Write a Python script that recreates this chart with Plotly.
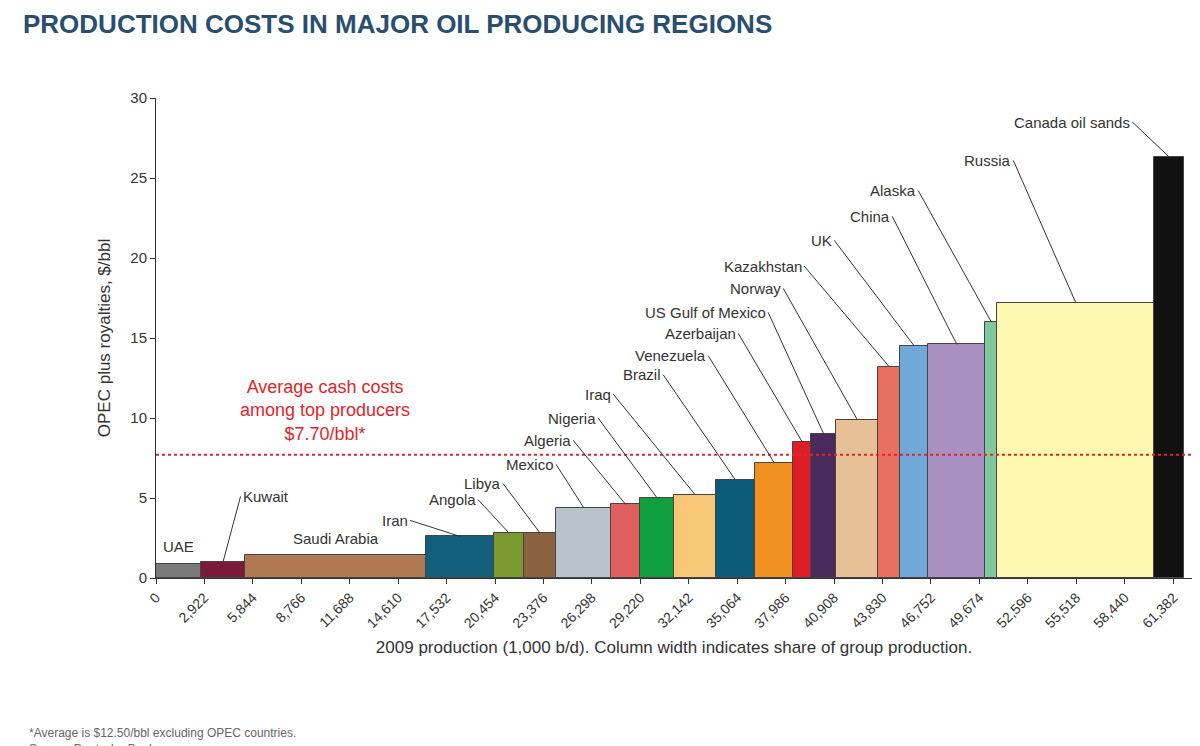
import plotly.graph_objects as go
import numpy as np

regions = ["UAE","Kuwait","Saudi Arabia","Iran","Angola","Libya","Mexico","Algeria","Nigeria","Iraq",
           "Brazil","Venezuela","Azerbaijan","US Gulf of Mexico","Norway","Kazakhstan","UK","China",
           "Alaska","Russia","Canada oil sands"]
widths = [2716,2655,10924,4103,1811,1931,3319,1750,2052,2535,2354,2293,1086,1509,2535,1327,1690,3440,724,9475,1811]
costs = [0.9,1.0,1.45,2.6,2.8,2.8,4.4,4.6,5.0,5.2,6.1,7.2,8.5,9.0,9.9,13.2,14.5,14.6,16.0,17.2,26.3]
colors = ["#7a7a7a","#7a1a3a","#b07850","#135e7a","#7a9a30","#8a6240","#b8c4cc","#e06060","#10a040","#f8c878",
          "#0a5a78","#f09020","#e01c24","#4a2a5a","#e8c098","#e87060","#70a8d8","#a890c0","#80c8a0","#fff8b0","#111111"]
tick_vals = [0,2922,5844,8766,11688,14610,17532,20454,23376,26298,29220,32142,35064,37986,40908,43830,46752,49674,52596,55518,58440,61382]
avg_cost = 7.7
label_x = [None,None,None,15330,19430,20940,24140,25170,26670,27580,30600,33310,35120,36930,37840,39100,40920,44420,45990,51720,58900]
label_y = [None,None,None,3.6,4.9,5.9,7.1,8.6,10.0,11.5,12.7,13.9,15.3,16.6,18.1,19.5,21.1,22.6,24.2,26.1,28.5]

starts = np.concatenate([[0], np.cumsum(widths)[:-1]])
centers = starts + np.array(widths)/2

fig = go.Figure(go.Bar(x=centers, y=costs, width=widths, marker=dict(color=colors, line=dict(color="#444", width=1)),
                       hovertext=regions))
fig.add_hline(y=avg_cost, line=dict(color="#e0262a", width=2, dash="dot"))

ann = []
for i, r in enumerate(regions):
    if label_x[i] is None:
        continue
    ann.append(dict(x=centers[i], y=costs[i], xref="x", yref="y", ax=label_x[i], ay=label_y[i],
                    axref="x", ayref="y", text=r, showarrow=True, arrowhead=0, arrowwidth=1,
                    arrowcolor="#333", xanchor="right", yanchor="middle", standoff=0,
                    font=dict(size=15, color="#333")))
ann.append(dict(x=centers[0], y=1.3, xref="x", yref="y", text="UAE", showarrow=False, yanchor="bottom",
                font=dict(size=15, color="#333")))
ann.append(dict(x=centers[2], y=1.8, xref="x", yref="y", text="Saudi Arabia", showarrow=False, yanchor="bottom",
                font=dict(size=15, color="#333")))
ann.append(dict(x=centers[1], y=costs[1], xref="x", yref="y", ax=5100, ay=5.1, axref="x", ayref="y",
                text="Kuwait", showarrow=True, arrowhead=0, arrowwidth=1, arrowcolor="#333", xanchor="left",
                standoff=0, font=dict(size=15, color="#333")))
ann.append(dict(x=10200, y=10.5, xref="x", yref="y", text="Average cash costs<br>among top producers<br>$7.70/bbl*",
                showarrow=False, font=dict(size=18, color="#e0262a")))
ann.append(dict(x=-0.13, y=1.19, xref="paper", yref="paper", xanchor="left", yanchor="top",
                text="<b>PRODUCTION COSTS IN MAJOR OIL PRODUCING REGIONS</b>", showarrow=False,
                font=dict(size=26, color="#2a4f6e", family="Liberation Sans Narrow, Liberation Sans")))
ann.append(dict(x=-0.125, y=-0.305, xref="paper", yref="paper", xanchor="left", yanchor="top", showarrow=False, align="left",
                text="*Average is $12.50/bbl excluding OPEC countries.<br>Source: Deutsche Bank",
                font=dict(size=12, color="#666", family="Liberation Sans Narrow, Liberation Sans")))

fig.update_layout(width=1200, height=746, margin=dict(l=148, r=16, t=90, b=176),
                  plot_bgcolor="white", paper_bgcolor="white", showlegend=False, bargap=0,
                  annotations=ann, font=dict(family="Liberation Sans, Arial", color="#333"))
fig.update_xaxes(range=[0, 62500], tickvals=tick_vals, ticktext=[f"{v:,}" for v in tick_vals], tickangle=-45,
                 showline=True, linecolor="#333", ticks="outside", tickcolor="#333", showgrid=False,
                 tickfont=dict(size=14), zeroline=False,
                 title=dict(text="2009 production (1,000 b/d). Column width indicates share of group production.",
                            font=dict(size=17), standoff=10))
fig.update_yaxes(range=[0, 30], tickvals=[0,5,10,15,20,25,30], showline=True, linecolor="#333", ticks="outside",
                 tickcolor="#333", showgrid=False, zeroline=False, tickfont=dict(size=15),
                 title=dict(text="OPEC plus royalties, $/bbl", font=dict(size=17)))
fig.write_html("out.html")
